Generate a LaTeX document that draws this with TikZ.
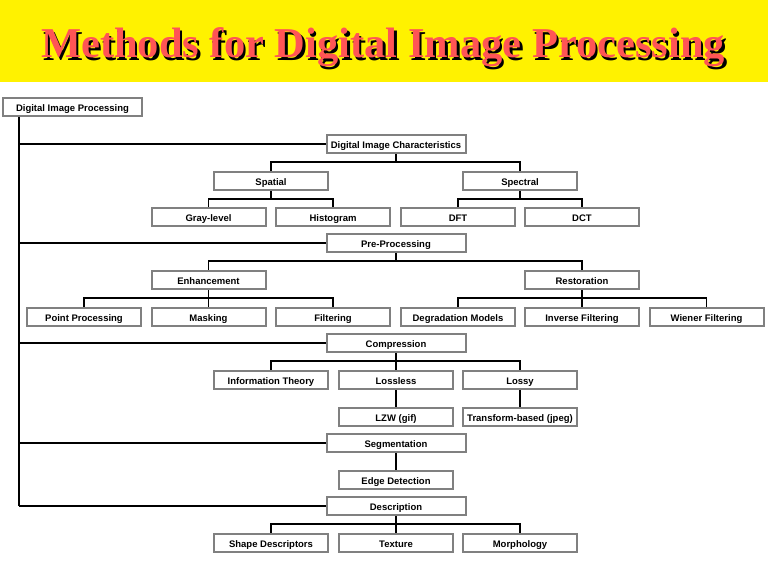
\documentclass[tikz,border=0pt]{standalone}
\usepackage{fontspec}
\setsansfont{Liberation Sans}
\newfontfamily\titlefont{Liberation Serif}
\definecolor{titlered}{RGB}{255,85,85}
\definecolor{boxgray}{RGB}{128,128,128}

\begin{document}
\begin{tikzpicture}[x=1pt, y=-1pt,
    box/.style={draw=boxgray, line width=2pt, fill=white,
        minimum width=114pt, minimum height=18pt, inner sep=0pt,
        text height=9pt, text depth=0pt,
        font=\sffamily\bfseries\fontsize{9.5}{11}\selectfont},
    widebox/.style={box, minimum width=139pt},
    link/.style={line width=1.3pt},
    heading/.style={anchor=base, font=\titlefont\bfseries\fontsize{42.5}{48}\selectfont}]
    \useasboundingbox (0,0) rectangle (768,576);

    % Draw the title band
    \fill[yellow] (0,0) rectangle (768,82);
    \node[heading, text=black] (titleshadow) at (385.5,60) {Methods for Digital Image Processing};
    \node[heading, text=titlered] (title) at (383,57.5) {Methods for Digital Image Processing};

    % Draw the main boxes
    \node[widebox] (dip) at (72.5,107) {Digital Image Processing};
    \node[widebox] (dic) at (396,144) {Digital Image Characteristics};
    \node[widebox] (pre) at (396,243) {Pre-Processing};
    \node[widebox] (comp) at (396,343) {Compression};
    \node[widebox] (seg) at (396,443) {Segmentation};
    \node[widebox] (desc) at (396,506) {Description};

    % Draw the second level boxes
    \foreach \name/\x/\y/\txt in {spatial/271/181/Spatial, spectral/520/181/Spectral,
        enh/208.5/280/Enhancement, rest/582/280/Restoration,
        info/271/380/Information Theory, lossless/396/380/Lossless, lossy/520/380/Lossy,
        edge/396/480/Edge Detection,
        shape/271/543/Shape Descriptors, texture/396/543/Texture, morph/520/543/Morphology}
        \node[box] (\name) at (\x,\y) {\txt};

    % Draw the leaf boxes
    \foreach \name/\x/\txt in {gray/208.5/Gray-level, hist/333/Histogram, dft/458/DFT, dct/582/DCT}
        \node[box] (\name) at (\x,216.5) {\txt};
    \foreach \name/\x/\txt in {point/84/Point Processing, mask/208.5/Masking, filt/333/Filtering,
        degr/458/Degradation Models, inv/582/Inverse Filtering, wien/706.5/Wiener Filtering}
        \node[box] (\name) at (\x,317) {\txt};
    \node[box] (lzw) at (396,416.5) {LZW (gif)};
    \node[box] (jpeg) at (520,416.5) {Transform-based (jpeg)};

    % Draw the trunk and its branches
    \coordinate (trunk) at (19,0);
    \draw[link, line width=1.6pt] (trunk |- dip.south) -- (trunk |- desc.west);
    \foreach \n in {dic, pre, comp, seg, desc}
        \draw[link] (trunk |- \n.west) -- (\n.west);

    % Draw the tree connectors
    \foreach \kid in {spatial, spectral}
        \draw[link] (dic.south) -- ++(0,8) -| (\kid.north);
    \foreach \kid in {gray, hist}
        \draw[link] (spatial.south) -- ++(0,8) -| (\kid.north);
    \foreach \kid in {dft, dct}
        \draw[link] (spectral.south) -- ++(0,8) -| (\kid.north);
    \foreach \kid in {enh, rest}
        \draw[link] (pre.south) -- ++(0,8) -| (\kid.north);
    \foreach \kid in {point, mask, filt}
        \draw[link] (enh.south) -- ++(0,8) -| (\kid.north);
    \foreach \kid in {degr, inv, wien}
        \draw[link] (rest.south) -- ++(0,8) -| (\kid.north);
    \foreach \kid in {info, lossless, lossy}
        \draw[link] (comp.south) -- ++(0,8) -| (\kid.north);
    \foreach \kid in {shape, texture, morph}
        \draw[link] (desc.south) -- ++(0,8) -| (\kid.north);
    \draw[link] (lossless.south) -- (lzw.north);
    \draw[link] (lossy.south) -- (jpeg.north);
    \draw[link] (seg.south) -- (edge.north);

\end{tikzpicture}
\end{document}
